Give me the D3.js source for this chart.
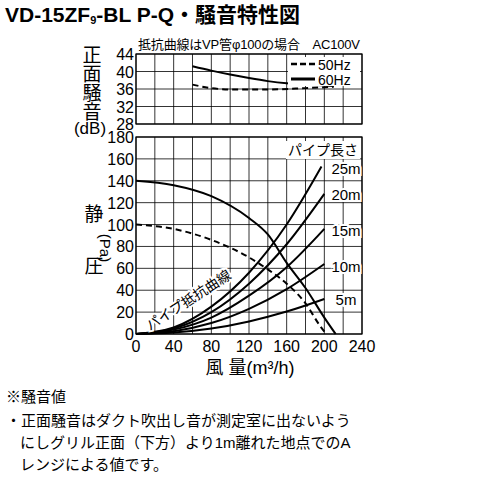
<!DOCTYPE html><html><head><meta charset="utf-8"><script src="https://cdn.jsdelivr.net/npm/d3@7"></script>
<style>body{margin:0;background:#fff}text{font-family:"Liberation Sans","Noto Sans CJK JP",sans-serif}</style></head><body>
<svg id="c" width="493" height="485"></svg>
<script>
const xTicks=[0,40,80,120,160,200,240];
const pTicks=[0,20,40,60,80,100,120,140,160,180];
const dbTicks=[28,32,36,40,44];
const pq60=[[0,140],[40,136],[80,126],[120,106],[140,91],[160,65],[180,42],[200,15],[212,0]];
const pq50=[[0,100],[40,96],[80,86],[120,70],[140,59],[160,46],[180,28],[195,8],[202,0]];
const db60=[[60,41.2],[80,40.2],[100,39.3],[120,38.5],[140,37.8],[160,37.3],[180,37],[210,36.7]];
const db50=[[60,37],[80,36.2],[100,35.9],[140,35.9],[180,36.2],[210,36.5]];
const pipes=[
 {name:"25m",pts:[[0,0],[40,6],[80,25],[120,56],[160,100],[197,153]]},
 {name:"20m",pts:[[0,0],[40,5],[80,20],[120,46],[160,82],[200,128]]},
 {name:"15m",pts:[[0,0],[40,4],[80,15],[120,35],[160,61],[200,96]]},
 {name:"10m",pts:[[0,0],[40,2.5],[80,10],[120,23],[160,41],[200,64]]},
 {name:"5m",pts:[[0,0],[40,1.3],[80,5],[120,11.5],[160,20.5],[200,32]]}];
const pipeLabelY=[152,128,95,62,32];
const svg=d3.select("#c");
const x=d3.scaleLinear().domain([0,240]).range([136,362]);
const yp=d3.scaleLinear().domain([0,180]).range([334,137]);
const yd=d3.scaleLinear().domain([28,44]).range([124,54]);
const g=svg.append("g");
function grid(y,ticks,yr){
  d3.range(0,241,20).forEach(v=>g.append("line").attr("x1",x(v)).attr("x2",x(v)).attr("y1",yr[0]).attr("y2",yr[1]).attr("stroke","#000").attr("stroke-width",0.8));
  ticks.forEach(v=>g.append("line").attr("x1",x(0)).attr("x2",x(240)).attr("y1",y(v)).attr("y2",y(v)).attr("stroke","#000").attr("stroke-width",0.8));
}
grid(yp,pTicks,[yp(0),yp(180)]);
grid(yd,dbTicks,[yd(28),yd(44)]);
g.append("rect").attr("x",x(0)).attr("y",yp(180)).attr("width",x(240)-x(0)).attr("height",yp(0)-yp(180)).attr("fill","none").attr("stroke","#000").attr("stroke-width",1.2);
g.append("rect").attr("x",x(0)).attr("y",yd(44)).attr("width",x(240)-x(0)).attr("height",yd(28)-yd(44)).attr("fill","none").attr("stroke","#000").attr("stroke-width",1.2);
const T=(t,xx,yy,o={})=>{const e=svg.append("text").attr("x",xx).attr("y",yy).attr("font-size",o.s||16).attr("text-anchor",o.a||"start").text(t);if(o.w)e.attr("font-weight",o.w);return e;};
pTicks.forEach(v=>T(v,x(0)-2,yp(v)+6,{a:"end"}));
dbTicks.forEach(v=>T(v,x(0)-2,yd(v)+6,{a:"end"}));
xTicks.forEach(v=>T(v,x(v),352,{a:"middle"}));
const lp=d3.line().x(d=>x(d[0])).y(d=>yp(d[1])).curve(d3.curveMonotoneX);
const ld=d3.line().x(d=>x(d[0])).y(d=>yd(d[1])).curve(d3.curveMonotoneX);
pipes.forEach((p,i)=>{g.append("path").attr("d",lp(p.pts)).attr("fill","none").attr("stroke","#000").attr("stroke-width",2);
  T(p.name,x(223),yp(pipeLabelY[i])+6,{a:"middle",s:15}).attr("paint-order","stroke").attr("stroke","#fff").attr("stroke-width",4);});
g.append("path").attr("d",lp(pq60)).attr("fill","none").attr("stroke","#000").attr("stroke-width",2);
g.append("path").attr("d",lp(pq50)).attr("fill","none").attr("stroke","#000").attr("stroke-width",2).attr("stroke-dasharray","6,4");
g.append("path").attr("d",ld(db60)).attr("fill","none").attr("stroke","#000").attr("stroke-width",2);
g.append("path").attr("d",ld(db50)).attr("fill","none").attr("stroke","#000").attr("stroke-width",2).attr("stroke-dasharray","6,4");
svg.append("rect").attr("x",288).attr("y",57).attr("width",72).attr("height",29).attr("fill","#fff");
svg.append("line").attr("x1",291).attr("x2",315).attr("y1",64).attr("y2",64).attr("stroke","#000").attr("stroke-width",2.5).attr("stroke-dasharray","6,3");
svg.append("line").attr("x1",291).attr("x2",315).attr("y1",79).attr("y2",79).attr("stroke","#000").attr("stroke-width",3);
T("50Hz",318,70,{s:14});T("60Hz",318,85,{s:14});
svg.append("rect").attr("x",286).attr("y",141).attr("width",74).attr("height",18).attr("fill","#fff");
T("パイプ長さ",358,155,{a:"end",s:14});
T("抵抗曲線はVP管φ100の場合　AC100V",138,49,{s:13}).attr("textLength",222);
T("パイプ抵抗曲線",0,0,{s:14}).attr("transform","translate(150,331) rotate(-33)").attr("paint-order","stroke").attr("stroke","#fff").attr("stroke-width",4);
const tt=svg.append("text").attr("x",5).attr("y",22).attr("font-size",21).attr("font-weight","bold");
tt.append("tspan").text("VD-15ZF");tt.append("tspan").attr("font-size",11).attr("dy",2).text("9");tt.append("tspan").attr("dy",-2).text("-BL P-Q・騒音特性図");
["正","面","騒","音"].forEach((c,i)=>T(c,92,62+i*19,{a:"middle",s:19}));
T("(dB)",90,134,{a:"middle",s:17});
T("静",94,221,{a:"middle",s:19});
T("(Pa)",0,0,{a:"middle",s:15}).attr("transform","translate(100,248) rotate(90)");
T("圧",94,273,{a:"middle",s:19});
T("風 量(m³/h)",250,374,{a:"middle",s:18});
T("※騒音値",6,402,{s:15});
T("・正面騒音はダクト吹出し音が測定室に出ないよう",6,426,{s:15});
T("にしグリル正面（下方）より1m離れた地点でのA",20,448,{s:15});
T("レンジによる値です。",20,470,{s:15});
</script></body></html>
